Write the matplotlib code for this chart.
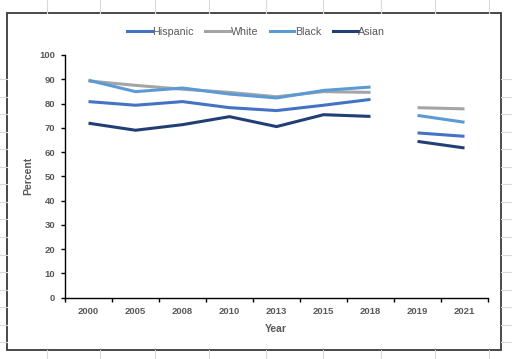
import matplotlib.pyplot as plt
import numpy as np
from matplotlib.lines import Line2D
from matplotlib.patches import Rectangle

plt.rcParams['font.family'] = ['Liberation Sans', 'DejaVu Sans']

# data
years = ['2000', '2005', '2008', '2010', '2013', '2015', '2018', '2019', '2021']
hispanic = [80.8, 79.3, 80.8, 78.3, 77.1, 79.3, 81.7, 67.9, 66.5]
white = [89.3, 87.5, 85.9, 84.6, 82.8, 84.9, 84.6, 78.3, 77.8]
black = [89.6, 84.9, 86.4, 83.9, 82.3, 85.4, 86.8, 75.1, 72.3]
asian = [71.9, 69.0, 71.3, 74.6, 70.5, 75.4, 74.7, 64.4, 61.7]
series = [('Hispanic', hispanic, '#4472C4'),
          ('White', white, '#A5A5A5'),
          ('Black', black, '#5B9BD5'),
          ('Asian', asian, '#223F75')]
brk = 7  # line is broken between 2018 and 2019

W, H = 512, 359
fig = plt.figure(figsize=(W/100, H/100), dpi=100)

# spreadsheet cell lines behind the chart
gc = '#DADADA'
for xv in [47, 100, 155, 209, 266, 323, 381, 435, 489]:
    fig.add_artist(Line2D([xv/W, xv/W], [1, 1-13/H], color=gc, lw=0.8))
    fig.add_artist(Line2D([xv/W, xv/W], [1-350/H, 0], color=gc, lw=0.8))
for yv in np.arange(79, 345, 17.55):
    fig.add_artist(Line2D([0, 7/W], [1-yv/H, 1-yv/H], color=gc, lw=0.8))
    fig.add_artist(Line2D([501/W, 1], [1-yv/H, 1-yv/H], color=gc, lw=0.8))

# chart border
fig.add_artist(Rectangle((7/W, 1-350/H), 494/W, 337/H, transform=fig.transFigure,
                         fill=False, edgecolor='#3A3A3A', lw=1.3))

ax = fig.add_axes([65/W, 1-297.7/H, 423/W, 242.7/H])
x = np.arange(len(years))
for name, vals, col in series:
    ax.plot(x[:brk], vals[:brk], color=col, lw=2.2, label=name, solid_capstyle='butt')
    ax.plot(x[brk:], vals[brk:], color=col, lw=2.2, solid_capstyle='butt')

ax.set_xlim(-0.5, len(years)-0.5)
ax.set_ylim(0, 100)
ax.set_yticks(range(0, 101, 10))
ax.set_xticks(np.arange(-0.5, len(years), 1))
ax.set_xticklabels([])
ax.set_xticks(x, minor=True)
ax.set_xticklabels(years, minor=True)
for s in ['top', 'right']:
    ax.spines[s].set_visible(False)
for s in ['left', 'bottom']:
    ax.spines[s].set_color('black')
    ax.spines[s].set_linewidth(1.0)
ax.tick_params(axis='both', which='major', direction='out', length=3, width=1.0, color='black')
ax.tick_params(axis='x', which='minor', length=0, pad=7, labelsize=6.8, labelcolor='#595959')
ax.tick_params(axis='y', which='major', pad=4, labelsize=6.8, labelcolor='#595959')
for lab in ax.get_yticklabels() + ax.get_xticklabels(minor=True):
    lab.set_fontweight('bold')

fig.text(28.5/W, 1-176/H, 'Percent', rotation=90, ha='center', va='center',
         fontsize=7.5, fontweight='bold', color='#595959')
fig.text(276/W, 1-329/H, 'Year', ha='center', va='center',
         fontsize=7.5, fontweight='bold', color='#595959')

handles = [Line2D([], [], color=c, lw=2.2) for _, _, c in series]
leg = fig.legend(handles, [n for n, _, _ in series], loc='center',
                 bbox_to_anchor=(256/W, 1-31.7/H), ncol=4, frameon=False,
                 fontsize=7.7, handlelength=2.3, handletextpad=0.05, columnspacing=1.1,
                 labelcolor='#595959')

fig.savefig('out.png', dpi=100)
